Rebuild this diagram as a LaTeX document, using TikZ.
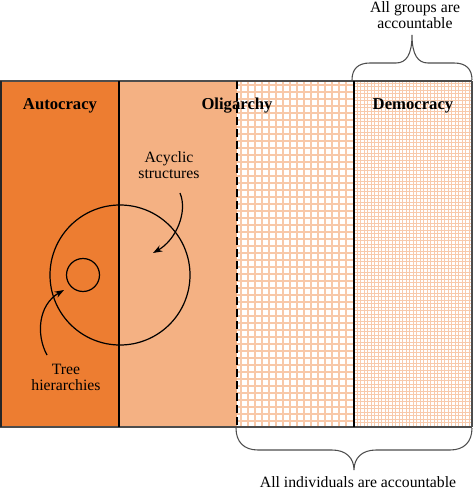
\documentclass[tikz,border=0pt]{standalone}
\usepackage{fontspec}
\setmainfont{Liberation Serif}
\usetikzlibrary{arrows.meta}
\definecolor{autoorange}{HTML}{ED7D31}
\definecolor{oligorange}{HTML}{F4B183}
\definecolor{gridorange}{HTML}{F8C8A8}
\definecolor{finegridorange}{HTML}{F8CAAC}
\definecolor{framegray}{HTML}{4D4D4D}
\tikzset{
  panellabel/.style={font=\fontsize{12.5}{14}\selectfont\bfseries, inner sep=0pt},
  note/.style={font=\fontsize{11.8}{12}\selectfont, align=center, inner sep=0pt},
  coarsegrid/.style={gridorange, line width=1.2pt},
  finegrid/.style={finegridorange, line width=0.75pt},
  divider/.style={line width=2pt},
  pointer/.style={-{Stealth[length=7pt,width=5pt]}, line width=0.9pt},
  bracecurve/.style={framegray, line width=0.8pt},
}
\begin{document}
\begin{tikzpicture}[x=0.75pt, y=-0.75pt]
    \useasboundingbox (0,0) rectangle (474,489);

    % Panels
    \fill[autoorange] (1,81) rectangle (119,427);
    \fill[oligorange] (119,81) rectangle (237,427);
    \fill[white] (237,81) rectangle (472,427);

    % Grids
    \foreach \x in {241,248,...,352} \draw[coarsegrid] (\x,81) -- (\x,427);
    \foreach \y in {85,92,...,427} \draw[coarsegrid] (237,\y) -- (354,\y);
    \foreach \x in {357,360.5,...,471} \draw[finegrid] (\x,81) -- (\x,427);
    \foreach \y in {83,86.5,...,427} \draw[finegrid] (354,\y) -- (472,\y);

    % Frame and dividers
    \draw[framegray, line width=0.8pt] (0,81) -- (472,81);
    \draw[framegray, line width=0.8pt] (0,427) -- (472,427);
    \draw[line width=1.5pt, black!85] (1,81) -- (1,427);
    \draw[divider] (119,81) -- (119,427);
    \draw[line width=1.1pt, dash pattern=on 6pt off 3pt] (237,81) -- (237,427);
    \draw[divider] (354,81) -- (354,427);
    \draw[framegray, line width=1.5pt] (472,81) -- (472,427);

    % Labels
    \node[panellabel] (autoc) at (60,106) {Autocracy};
    \node[panellabel] (olig) at (237,106) {Oligarchy};
    \node[panellabel] (democ) at (413,106) {Democracy};

    % Structures
    \draw[line width=0.9pt] (120,275) circle (70);
    \draw[line width=0.9pt] (83,275) circle (16.5);

    \node[note] (acyc) at (169,165) {Acyclic\\structures};
    \node[note] (tree) at (66,377) {Tree\\hierarchies};

    \coordinate (acycstart) at (180,193);
    \coordinate (acyctip) at (153,253);
    \coordinate (treestart) at (47,355);
    \coordinate (treetip) at (64,290);
    \draw[pointer] (acycstart) .. controls (188,212) and (176,240) .. (acyctip);
    \draw[pointer] (treestart) .. controls (36,335) and (38,305) .. (treetip);

    % Braces
    \draw[bracecurve] (352,80) .. controls (352,69) and (358,63) .. (370,63) -- (396,63)
        .. controls (406,63) and (412,55) .. (412,35)
        .. controls (412,55) and (418,63) .. (428,63) -- (454,63)
        .. controls (466,63) and (472,69) .. (472,80);
    \node[note] (groups) at (415,15) {All groups are\\accountable};

    \draw[bracecurve] (236,428) .. controls (236,442) and (244,450) .. (258,450) -- (332,450)
        .. controls (346,450) and (354,458) .. (354,470)
        .. controls (354,458) and (362,450) .. (376,450) -- (450,450)
        .. controls (464,450) and (472,442) .. (472,428);
    \node[note] (indiv) at (358,482) {All individuals are accountable};
\end{tikzpicture}
\end{document}
